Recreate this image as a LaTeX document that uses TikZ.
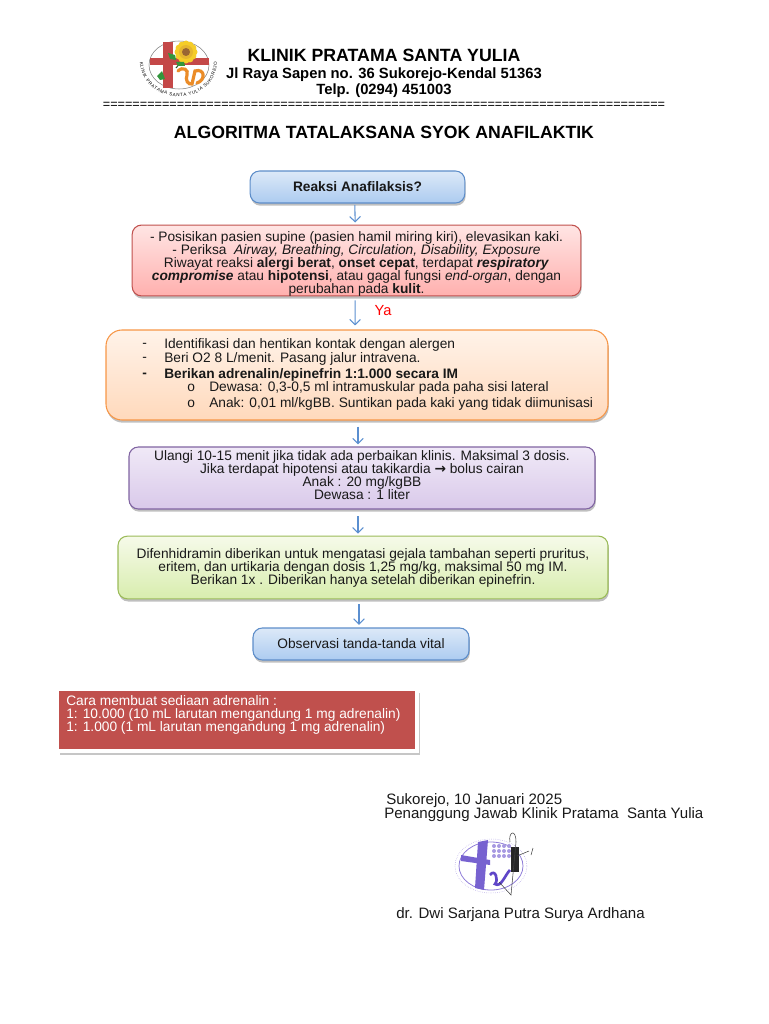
\documentclass[tikz,border=0pt]{standalone}
\usepackage{fontspec}
\setmainfont{Liberation Sans}
\newfontfamily\arrowFont{DejaVu Sans}
\usetikzlibrary{positioning, shadows, arrows.meta, decorations.text}
\definecolor{clBlue}     {RGB}{220,233,248}
\definecolor{clBlueDk}   {RGB}{172,203,240}
\definecolor{clBlueBd}   {RGB}{ 93,141,201}
\definecolor{clRed}      {RGB}{255,229,228}
\definecolor{clRedDk}    {RGB}{255,176,174}
\definecolor{clRedBd}    {RGB}{192, 80, 77}
\definecolor{clOrange}   {RGB}{255,243,233}
\definecolor{clOrangeDk} {RGB}{255,217,188}
\definecolor{clOrangeBd} {RGB}{247,150, 70}
\definecolor{clPurple}   {RGB}{240,233,247}
\definecolor{clPurpleDk} {RGB}{217,201,234}
\definecolor{clPurpleBd} {RGB}{128,100,162}
\definecolor{clGreen}    {RGB}{246,250,233}
\definecolor{clGreenDk}  {RGB}{216,237,174}
\definecolor{clGreenBd}  {RGB}{155,187, 89}
\definecolor{clArrow}    {RGB}{ 91,143,208}
\definecolor{clCross}    {RGB}{196, 72, 72}
\definecolor{clLeaf}     {RGB}{ 50,150, 60}
\definecolor{clPetal}    {RGB}{245,205, 40}
\definecolor{clND}       {RGB}{235,140, 40}
\definecolor{clStamp}    {RGB}{ 95, 70,200}
\definecolor{clInk}      {RGB}{ 25, 25, 25}
\newcommand{\bodyFont}{\fontsize{10.3}{9.75}\selectfont}
\newcommand{\eqLine}{============================================================================}
\tikzset{
  %% rounded flow box
  proc/.style={
    rectangle, rounded corners=7pt, thick, draw,
    align=center, font=\bodyFont, text=clInk, inner sep=0pt,
    drop shadow={shadow xshift=0.6pt, shadow yshift=-2pt, opacity=0.5}
  },
  %% colour variants
  blueBox/.style  ={proc, top color=clBlue,   bottom color=clBlueDk,   draw=clBlueBd},
  redBox/.style   ={proc, top color=clRed,    bottom color=clRedDk,    draw=clRedBd},
  orangeBox/.style={proc, top color=clOrange, bottom color=clOrangeDk, draw=clOrangeBd, rounded corners=12pt},
  purpleBox/.style={proc, top color=clPurple, bottom color=clPurpleDk, draw=clPurpleBd},
  greenBox/.style ={proc, top color=clGreen,  bottom color=clGreenDk,  draw=clGreenBd},
  %% arrows
  arr/.style={
    -{Straight Barb[length=4pt, width=8pt]},
    color=clArrow, line width=0.8pt
  },
  head/.style={font=\fontsize{11.1}{11.1}\selectfont\bfseries, text=black, inner sep=0pt},
  lineText/.style={anchor=west, font=\bodyFont, text=clInk, inner sep=0pt},
  signText/.style={anchor=west, font=\fontsize{11.3}{11.3}\selectfont, text=clInk, inner sep=0pt}
}
\begin{document}
\begin{tikzpicture}[x=0.75pt, y=-0.75pt]
\useasboundingbox (0,0) rectangle (768,1024);

%% ═══════════════════════════════════════════════════════════════
%%  HEADER
%% ═══════════════════════════════════════════════════════════════

\node[head, font=\fontsize{13.3}{13.3}\selectfont\bfseries] (clinicName) at (384,55) {KLINIK PRATAMA SANTA YULIA};
\node[head] (clinicAddr) at (384,75) {Jl Raya Sapen no. 36 Sukorejo-Kendal 51363};
\node[head] (clinicTel) at (384,91) {Telp. (0294) 451003};
\node[head, font=\fontsize{9.5}{9.5}\selectfont] (eqRule) at (384,105) {\eqLine};
\node[head, font=\fontsize{13.25}{13.25}\selectfont\bfseries] (mainTitle) at (384,132) {ALGORITMA TATALAKSANA SYOK ANAFILAKTIK};

%% logo
\draw[gray, fill=white] (179,65) ellipse (30 and 24);
\fill[clCross] (163,42) rectangle (173,88);
\fill[clCross] (150,58) rectangle (209,65);
\draw[clLeaf!60!black, thick] (186,56) -- (176,68);
\foreach \ang in {0,30,...,330}
  \fill[clPetal] (186,52) ++(\ang:8 and 8) ellipse (3.5 and 3.5);
\fill[clPetal!70!brown] (186,52) circle (7);
\fill[brown!80!black] (186,52) circle (4);
\fill[clLeaf] (168,53) -- (175,55) -- (176,60) -- (170,59) -- cycle;
\fill[clLeaf] (176,62) -- (184,62) -- (185,66) -- (178,66) -- cycle;
\fill[clLeaf] (162,71) -- (165,79) -- (160,80) -- (157,76) -- cycle;
\draw[clND, line width=2.4pt, line cap=round]
  (178,71) .. controls (183,66) and (189,70) .. (187,75)
  .. controls (185,80) and (188,85) .. (192,84)
  -- (195,71) .. controls (205,68) and (206,80) .. (197,83);
\path[decorate, decoration={text along path, text align={fit to path},
    text={|\fontsize{3.4}{3.4}\selectfont\rmfamily|KLINIK PRATAMA SANTA YULIA SUKOREJO}}]
  (140,62) .. controls (142,108) and (216,108) .. (217,62);

%% ═══════════════════════════════════════════════════════════════
%%  FLOW BOXES
%% ═══════════════════════════════════════════════════════════════

\node[blueBox, minimum width=161pt, minimum height=24pt] (reaksi) at (357.5,187) {\textbf{Reaksi Anafilaksis?}};

\node[redBox, minimum width=336.5pt, minimum height=51.5pt] (periksa) at (356.5,260.5) {
  \rule{0pt}{12pt}- Posisikan pasien supine (pasien hamil miring kiri), elevasikan kaki.\\
  - Periksa\ \ \textit{Airway, Breathing, Circulation, Disability, Exposure}\\
  Riwayat reaksi \textbf{alergi berat}, \textbf{onset cepat}, terdapat \textbf{\textit{respiratory}}\\
  \textbf{\textit{compromise}} atau \textbf{hipotensi}, atau gagal fungsi \textit{end-organ}, dengan\\
  perubahan pada \textbf{kulit}.
};

\node[font=\fontsize{11}{11}\selectfont, text=red, inner sep=0pt] (ya) at (383,311) {Ya};

\node[orangeBox, minimum width=376.5pt, minimum height=67.5pt] (adrenalin) at (357,375) {};
\node[lineText] (dashA) at (142,345) {-};
\node[lineText] (dashB) at (142,359) {-};
\node[lineText] (dashC) at (142,375) {\textbf{-}};
\node[lineText] (bulletA) at (187,388) {o};
\node[lineText] (bulletB) at (187,404) {o};
\node[lineText] (itemA) at (164,345) {Identifikasi dan hentikan kontak dengan alergen};
\node[lineText] (itemB) at (164,359) {Beri O2 8 L/menit. Pasang jalur intravena.};
\node[lineText] (itemC) at (164,375) {\textbf{Berikan adrenalin/epinefrin 1:1.000 secara IM}};
\node[lineText] (itemD) at (209,388) {Dewasa: 0,3-0,5 ml intramuskular pada paha sisi lateral};
\node[lineText] (itemE) at (209,404) {Anak: 0,01 ml/kgBB. Suntikan pada kaki yang tidak diimunisasi};

\node[purpleBox, minimum width=349.5pt, minimum height=46.5pt] (ulangi) at (362,478) {
  Ulangi 10-15 menit jika tidak ada perbaikan klinis. Maksimal 3 dosis.\\
  Jika terdapat hipotensi atau takikardia {\arrowFont\bfseries →} bolus cairan\\
  Anak : 20 mg/kgBB\\
  Dewasa : 1 liter\rule[-5pt]{0pt}{5pt}
};

\node[greenBox, minimum width=367.5pt, minimum height=47pt] (difen) at (363,567.5) {
  Difenhidramin diberikan untuk mengatasi gejala tambahan seperti pruritus,\\
  eritem, dan urtikaria dengan dosis 1,25 mg/kg, maksimal 50 mg IM.\\
  Berikan 1x . Diberikan hanya setelah diberikan epinefrin.
};

\node[blueBox, minimum width=162pt, minimum height=24pt] (observasi) at (361,644) {Observasi tanda-tanda vital};

%% note box
\node[rectangle, draw=white, line width=3pt, fill=clRedBd, minimum width=270pt, minimum height=46.5pt,
  drop shadow={shadow xshift=2.2pt, shadow yshift=-3.2pt, opacity=0.45}] (noteBox) at (237,720) {};
\node[anchor=north west, align=left, font=\bodyFont, text=white, inner sep=0pt] (noteText) at (66,695) {
  Cara membuat sediaan adrenalin :\\
  1: 10.000 (10 mL larutan mengandung 1 mg adrenalin)\\
  1: 1.000 (1 mL larutan mengandung 1 mg adrenalin)
};

%% ═══════════════════════════════════════════════════════════════
%%  ARROWS
%% ═══════════════════════════════════════════════════════════════

\draw[arr, shorten <=1pt, shorten >=1.5pt] ([xshift=-2pt]reaksi.south) -- ([xshift=-1pt]periksa.north);
\draw[arr, shorten <=3pt, shorten >=3pt] ([xshift=-1pt]periksa.south) -- ([xshift=-1.5pt]adrenalin.north);
\draw[arr, shorten <=4.5pt, shorten >=1.5pt] ([xshift=0.75pt]adrenalin.south) -- ([xshift=-3pt]ulangi.north);
\draw[arr, shorten <=5pt, shorten >=1.5pt] ([xshift=-3pt]ulangi.south) -- ([xshift=-3.75pt]difen.north);
\draw[arr, shorten <=3.5pt, shorten >=2pt] ([xshift=-3pt]difen.south) -- ([xshift=-1.5pt]observasi.north);

%% ═══════════════════════════════════════════════════════════════
%%  SIGNATURE
%% ═══════════════════════════════════════════════════════════════

\node[signText] (signDate) at (386,801) {Sukorejo, 10 Januari 2025};
\node[signText] (signRole) at (384,815) {Penanggung Jawab Klinik Pratama\ \ Santa Yulia};
\node[signText] (signName) at (396,915) {dr. Dwi Sarjana Putra Surya Ardhana};

%% stamp
\draw[clStamp!70, semithick] (491,866) ellipse (32 and 24);
\fill[clStamp!85] (478,842) -- (488,840) -- (484,890) -- (475,888) -- cycle;
\fill[clStamp!85] (461,855) -- (490,860) -- (490,865) -- (461,861) -- cycle;
\foreach \dotX in {494,499,...,509}
  \foreach \dotY in {846,851,856}
    \fill[clStamp!55] (\dotX,\dotY) circle (2);
\draw[clStamp, line width=2pt] (490,875) .. controls (495,868) and (499,880) .. (495,884)
  .. controls (501,888) and (505,875) .. (510,870);
\draw[clStamp!50, densely dotted] (491,866) ellipse (36 and 27);
\fill[black!85] (511,847) rectangle (519,872);
\draw[black!75] (510,842) .. controls (508,832) and (516,828) .. (516,842)
  -- (511,895) -- (499,882);
\draw[black!75] (517,856) -- (529,851) (533,848) -- (531,855);

\end{tikzpicture}
\end{document}
